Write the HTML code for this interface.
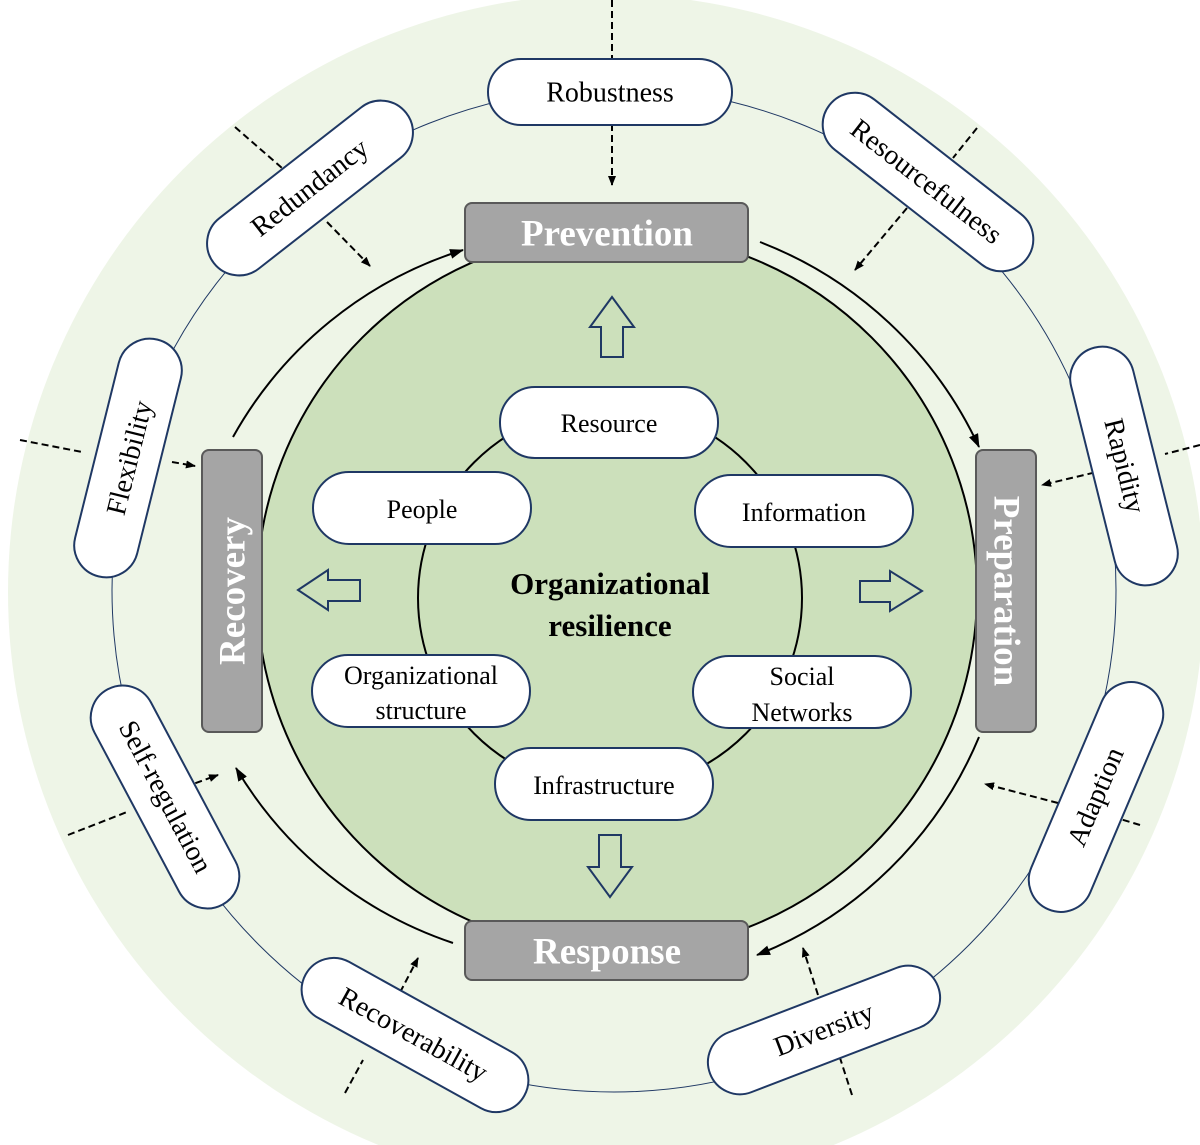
<!DOCTYPE html>
<html><head><meta charset="utf-8"><style>
html,body{margin:0;padding:0;background:#fff}
svg{display:block}
text{font-family:"Liberation Serif",serif}
</style></head><body>
<svg width="1200" height="1145" viewBox="0 0 1200 1145" xmlns="http://www.w3.org/2000/svg">
<defs>
<marker id="ah" markerWidth="10" markerHeight="8" refX="9" refY="4" orient="auto" markerUnits="userSpaceOnUse">
<path d="M0,0 L10,4 L0,8 z" fill="#000"/></marker>
<marker id="ah2" markerWidth="14" markerHeight="10" refX="13" refY="5" orient="auto" markerUnits="userSpaceOnUse">
<path d="M0,0 L14,5 L0,10 z" fill="#000"/></marker>
</defs>
<circle cx="606" cy="592" r="598" fill="#eef5e7"/>
<circle cx="614" cy="590" r="502" fill="none" stroke="#1f3864" stroke-width="1"/>
<!-- dashed -->
<g stroke="#000" stroke-width="2" stroke-dasharray="7,4" fill="none">
<line x1="612" y1="0" x2="612" y2="62"/><line x1="612" y1="124" x2="612" y2="185" marker-end="url(#ah)"/>
<line x1="235" y1="127" x2="290" y2="175"/><line x1="327" y1="222" x2="370" y2="266" marker-end="url(#ah)"/>
<line x1="977" y1="128" x2="953" y2="158"/><line x1="907" y1="208" x2="855" y2="270" marker-end="url(#ah)"/>
<line x1="1200" y1="445" x2="1165" y2="454"/><line x1="1105" y1="470" x2="1042" y2="485" marker-end="url(#ah)"/>
<line x1="1140" y1="825" x2="1120" y2="819"/><line x1="1058" y1="803" x2="985" y2="784" marker-end="url(#ah)"/>
<line x1="852" y1="1095" x2="840" y2="1058"/><line x1="818" y1="995" x2="803" y2="948" marker-end="url(#ah)"/>
<line x1="345" y1="1093" x2="363" y2="1060"/><line x1="395" y1="1002" x2="418" y2="958" marker-end="url(#ah)"/>
<line x1="68" y1="835" x2="127" y2="812"/><line x1="185" y1="787" x2="218" y2="775" marker-end="url(#ah)"/>
<line x1="20" y1="440" x2="82" y2="452"/><line x1="172" y1="462" x2="195" y2="466" marker-end="url(#ah)"/>
</g>
<!-- outer pills -->
<g fill="#fff" stroke="#1f3864" stroke-width="2">
<rect x="-122" y="-33" width="244" height="66" rx="33" transform="translate(610,92)"/>
<rect x="-125" y="-32" width="250" height="64" rx="32" transform="translate(928,182) rotate(38)"/>
<rect x="-122" y="-32" width="244" height="64" rx="32" transform="translate(1124,466) rotate(76)"/>
<rect x="-122" y="-32" width="244" height="64" rx="32" transform="translate(1096,797) rotate(-67)"/>
<rect x="-122" y="-32" width="244" height="64" rx="32" transform="translate(824,1030) rotate(-21)"/>
<rect x="-125" y="-32" width="250" height="64" rx="32" transform="translate(415,1035) rotate(29)"/>
<rect x="-122" y="-32" width="244" height="64" rx="32" transform="translate(165,797) rotate(62)"/>
<rect x="-122" y="-32" width="244" height="64" rx="32" transform="translate(128,458) rotate(-76)"/>
<rect x="-122" y="-32" width="244" height="64" rx="32" transform="translate(310,188) rotate(-38)"/>
</g>
<g font-size="28" fill="#000" text-anchor="middle" dominant-baseline="central">
<text transform="translate(610,93)">Robustness</text>
<text transform="translate(926,182) rotate(38)">Resourcefulness</text>
<text transform="translate(1124,466) rotate(76)">Rapidity</text>
<text transform="translate(1096,797) rotate(-67)">Adaption</text>
<text transform="translate(824,1030) rotate(-21)">Diversity</text>
<text transform="translate(413,1035) rotate(29)">Recoverability</text>
<text transform="translate(165,797) rotate(62)">Self-regulation</text>
<text transform="translate(130,458) rotate(-76)">Flexibility</text>
<text transform="translate(310,188) rotate(-38)">Redundancy</text>
</g>
<!-- black arc arrows -->
<g stroke="#000" stroke-width="2" fill="none">
<path d="M233,437 A400,400 0 0 1 463,250" marker-end="url(#ah2)"/>
<path d="M760,242 A400,400 0 0 1 979,447" marker-end="url(#ah2)"/>
<path d="M979,737 A400,400 0 0 1 757,955" marker-end="url(#ah2)"/>
<path d="M453,943 A400,400 0 0 1 236,768" marker-end="url(#ah2)"/>
</g>
<circle cx="617" cy="592" r="360" fill="#cce0bb" stroke="#000" stroke-width="2"/>
<circle cx="610" cy="598" r="192" fill="none" stroke="#000" stroke-width="2"/>
<!-- hollow arrows -->
<g fill="none" stroke="#1f3864" stroke-width="2">
<path d="M612,297 L634,327 L623,327 L623,357 L601,357 L601,327 L590,327 Z"/>
<path d="M298,590 L328,570 L328,580 L360,580 L360,601 L328,601 L328,610 Z"/>
<path d="M922,591 L890,571 L890,581 L860,581 L860,602 L890,602 L890,611 Z"/>
<path d="M610,897 L632,867 L621,867 L621,835 L599,835 L599,867 L588,867 Z"/>
</g>
<!-- gray boxes -->
<g fill="#a5a5a5" stroke="#595959" stroke-width="2">
<rect x="465" y="203" width="283" height="59" rx="7"/>
<rect x="465" y="921" width="283" height="59" rx="7"/>
<rect x="202" y="450" width="60" height="282" rx="7"/>
<rect x="976" y="450" width="60" height="282" rx="7"/>
</g>
<g font-size="37" font-weight="bold" fill="#fff" text-anchor="middle" dominant-baseline="central">
<text x="607" y="234">Prevention</text>
<text x="607" y="952">Response</text>
<text transform="translate(233,591) rotate(-90)">Recovery</text>
<text transform="translate(1006,591) rotate(90)">Preparation</text>
</g>
<!-- inner pills -->
<g fill="#fff" stroke="#1f3864" stroke-width="2">
<rect x="500" y="387" width="218" height="71" rx="35"/>
<rect x="313" y="472" width="218" height="72" rx="36"/>
<rect x="695" y="475" width="218" height="72" rx="36"/>
<rect x="312" y="655" width="218" height="72" rx="36"/>
<rect x="693" y="656" width="218" height="72" rx="36"/>
<rect x="495" y="748" width="218" height="72" rx="36"/>
</g>
<g font-size="26" fill="#000" text-anchor="middle">
<text x="609" y="432">Resource</text>
<text x="422" y="518">People</text>
<text x="804" y="521">Information</text>
<text x="421" y="684">Organizational</text>
<text x="421" y="719">structure</text>
<text x="802" y="685">Social</text>
<text x="802" y="721">Networks</text>
<text x="604" y="794">Infrastructure</text>
</g>
<g font-size="31" font-weight="bold" fill="#000" text-anchor="middle">
<text x="610" y="594">Organizational</text>
<text x="610" y="636">resilience</text>
</g>
</svg>
</body></html>
